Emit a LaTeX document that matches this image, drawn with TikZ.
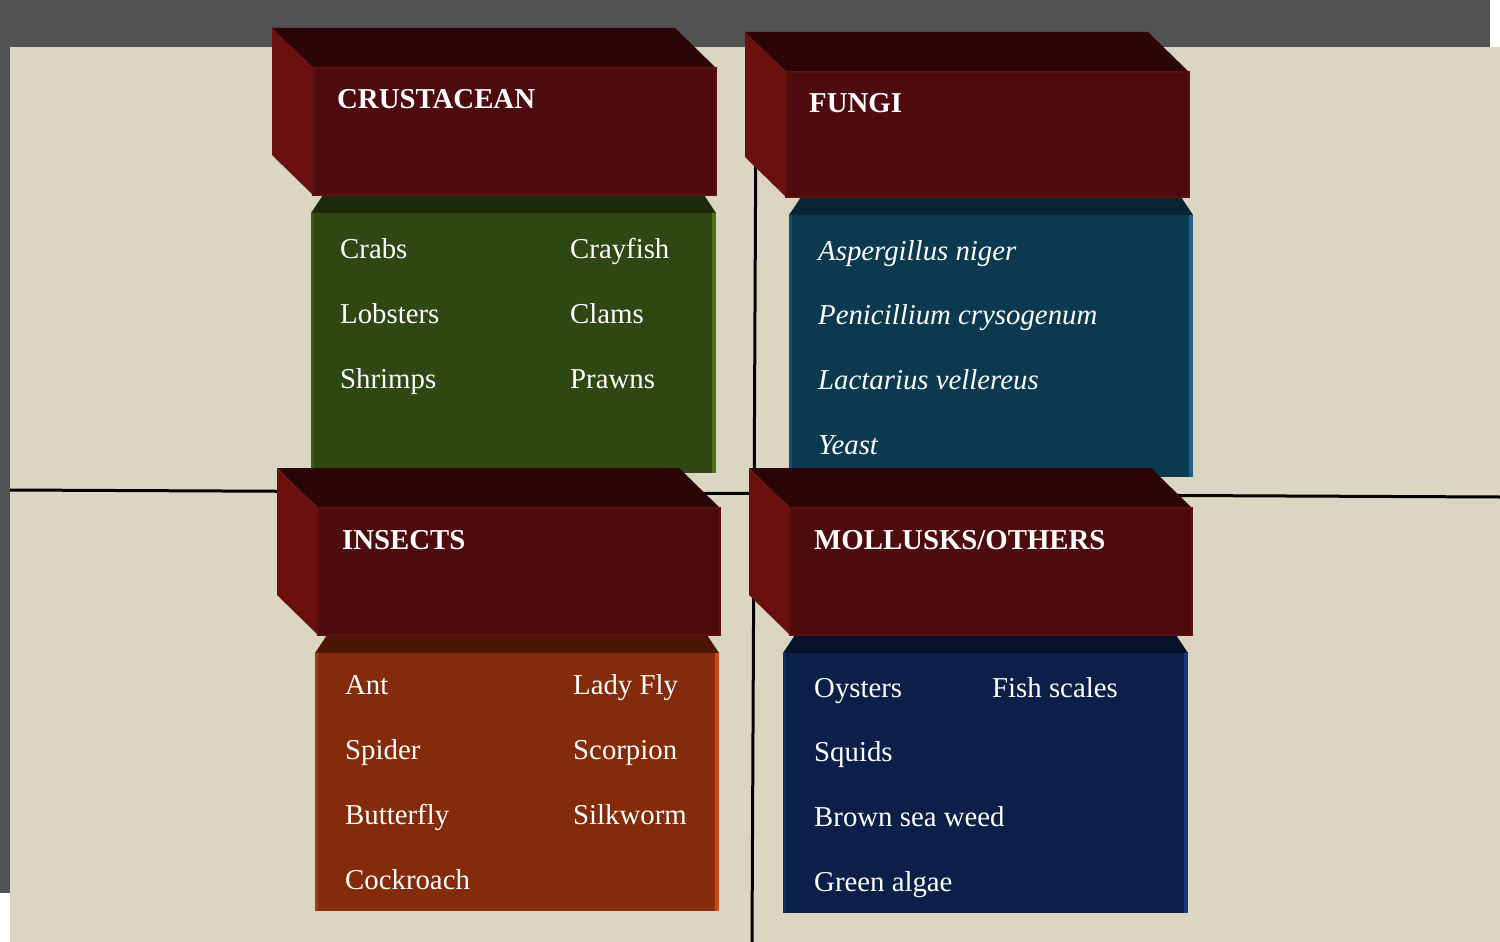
\documentclass[tikz,border=0pt]{standalone}
\usepackage{fontspec}
\setmainfont{Liberation Serif}
\usepackage{tikz}
\usetikzlibrary{calc}

\definecolor{slate}{HTML}{505254}
\definecolor{paper}{HTML}{DAD6C1}
\definecolor{lidtop}{HTML}{2C0606}
\definecolor{lidside}{HTML}{6A100E}
\definecolor{lidfront}{HTML}{4D0B0D}
\definecolor{lidedge}{HTML}{5E1010}
\definecolor{mossface}{HTML}{2F4712}
\definecolor{mossbevel}{HTML}{1D2A0C}
\definecolor{mossedge}{HTML}{4E7019}
\definecolor{tealface}{HTML}{0B3A50}
\definecolor{tealbevel}{HTML}{082534}
\definecolor{tealedge}{HTML}{1A6088}
\definecolor{rustface}{HTML}{832B0A}
\definecolor{rustbevel}{HTML}{4B1604}
\definecolor{rustedge}{HTML}{C84A10}
\definecolor{navyface}{HTML}{0B1F48}
\definecolor{navybevel}{HTML}{06132B}
\definecolor{navyedge}{HTML}{163C78}

\begin{document}
\begin{tikzpicture}[x=1pt,y=-1pt,
  head/.style={text=white,inner sep=0pt,anchor=base west,font=\fontsize{28.8}{30}\selectfont\bfseries},
  item/.style={text=white,inner sep=0pt,anchor=base west,font=\fontsize{28.8}{30}\selectfont},
  kind/.style={item,font=\fontsize{28.8}{30}\selectfont\itshape}]

\useasboundingbox (0,0) rectangle (1500,942);

% background sheets
\fill[slate] (0,0) rectangle (1490,893);
\fill[paper] (10,47) rectangle (1500,942);

% dividing lines
\coordinate (W) at (10,490);
\coordinate (E) at (1500,497);
\coordinate (N) at (756,100);
\coordinate (S) at (752,942);
\draw[line width=3pt] (W) -- (E);
\draw[line width=3pt] (N) -- (S);

% header boxes and their panels
\foreach \xa/\xb/\ya/\yb/\pa/\pb/\pc/\cf/\cb/\ce in {
    313/716/68/195/311/716/473/mossface/mossbevel/mossedge,
    786/1189/72/197/789/1193/477/tealface/tealbevel/tealedge,
    318/720/508/635/315/719/911/rustface/rustbevel/rustedge,
    790/1192/508/635/783/1188/913/navyface/navybevel/navyedge}{
  % panel
  \fill[\cb] (\pa+12,\yb) -- (\pb-12,\yb) -- (\pb,\yb+18) -- (\pa,\yb+18) -- cycle;
  \fill[\cf] (\pa,\yb+18) rectangle (\pb,\pc);
  \fill[\ce] (\pb-4,\yb+18) rectangle (\pb,\pc);
  \fill[\ce,opacity=0.5] (\pa,\yb+18) rectangle (\pa+3,\pc);
  % box
  \fill[lidtop] (\xa-41,\ya-40) -- (\xb-41,\ya-40) -- (\xb,\ya) -- (\xa,\ya) -- cycle;
  \fill[lidside] (\xa-41,\ya-40) -- (\xa,\ya) -- (\xa,\yb) -- (\xa-41,\yb-40) -- cycle;
  \filldraw[fill=lidfront,draw=lidedge,line width=1.5pt] (\xa,\ya) rectangle (\xb,\yb);
}

% headers
\node[head] (crustacean) at (337,108) {CRUSTACEAN};
\node[head] (fungi) at (809,112) {FUNGI};
\node[head] (insects) at (342,549) {INSECTS};
\node[head] (mollusks) at (814,549) {MOLLUSKS/OTHERS};

% crustacean items
\node[item] (crabs) at (340,258) {Crabs};
\node[item] (lobsters) at (340,323) {Lobsters};
\node[item] (shrimps) at (340,388) {Shrimps};
\node[item] (crayfish) at (570,258) {Crayfish};
\node[item] (clams) at (570,323) {Clams};
\node[item] (prawns) at (570,388) {Prawns};

% fungi items
\node[kind] (niger) at (818,260) {Aspergillus niger};
\node[kind] (crysogenum) at (818,324) {Penicillium crysogenum};
\node[kind] (vellereus) at (818,389) {Lactarius vellereus};
\node[kind] (yeast) at (818,454) {Yeast};

% insect items
\node[item] (ant) at (345,694) {Ant};
\node[item] (spider) at (345,759) {Spider};
\node[item] (butterfly) at (345,824) {Butterfly};
\node[item] (cockroach) at (345,889) {Cockroach};
\node[item] (ladyfly) at (573,694) {Lady Fly};
\node[item] (scorpion) at (573,759) {Scorpion};
\node[item] (silkworm) at (573,824) {Silkworm};

% mollusk items
\node[item] (oysters) at (814,697) {Oysters};
\node[item] (squids) at (814,761) {Squids};
\node[item] (seaweed) at (814,826) {Brown sea weed};
\node[item] (algae) at (814,891) {Green algae};
\node[item] (scales) at (992,697) {Fish scales};

\end{tikzpicture}
\end{document}
